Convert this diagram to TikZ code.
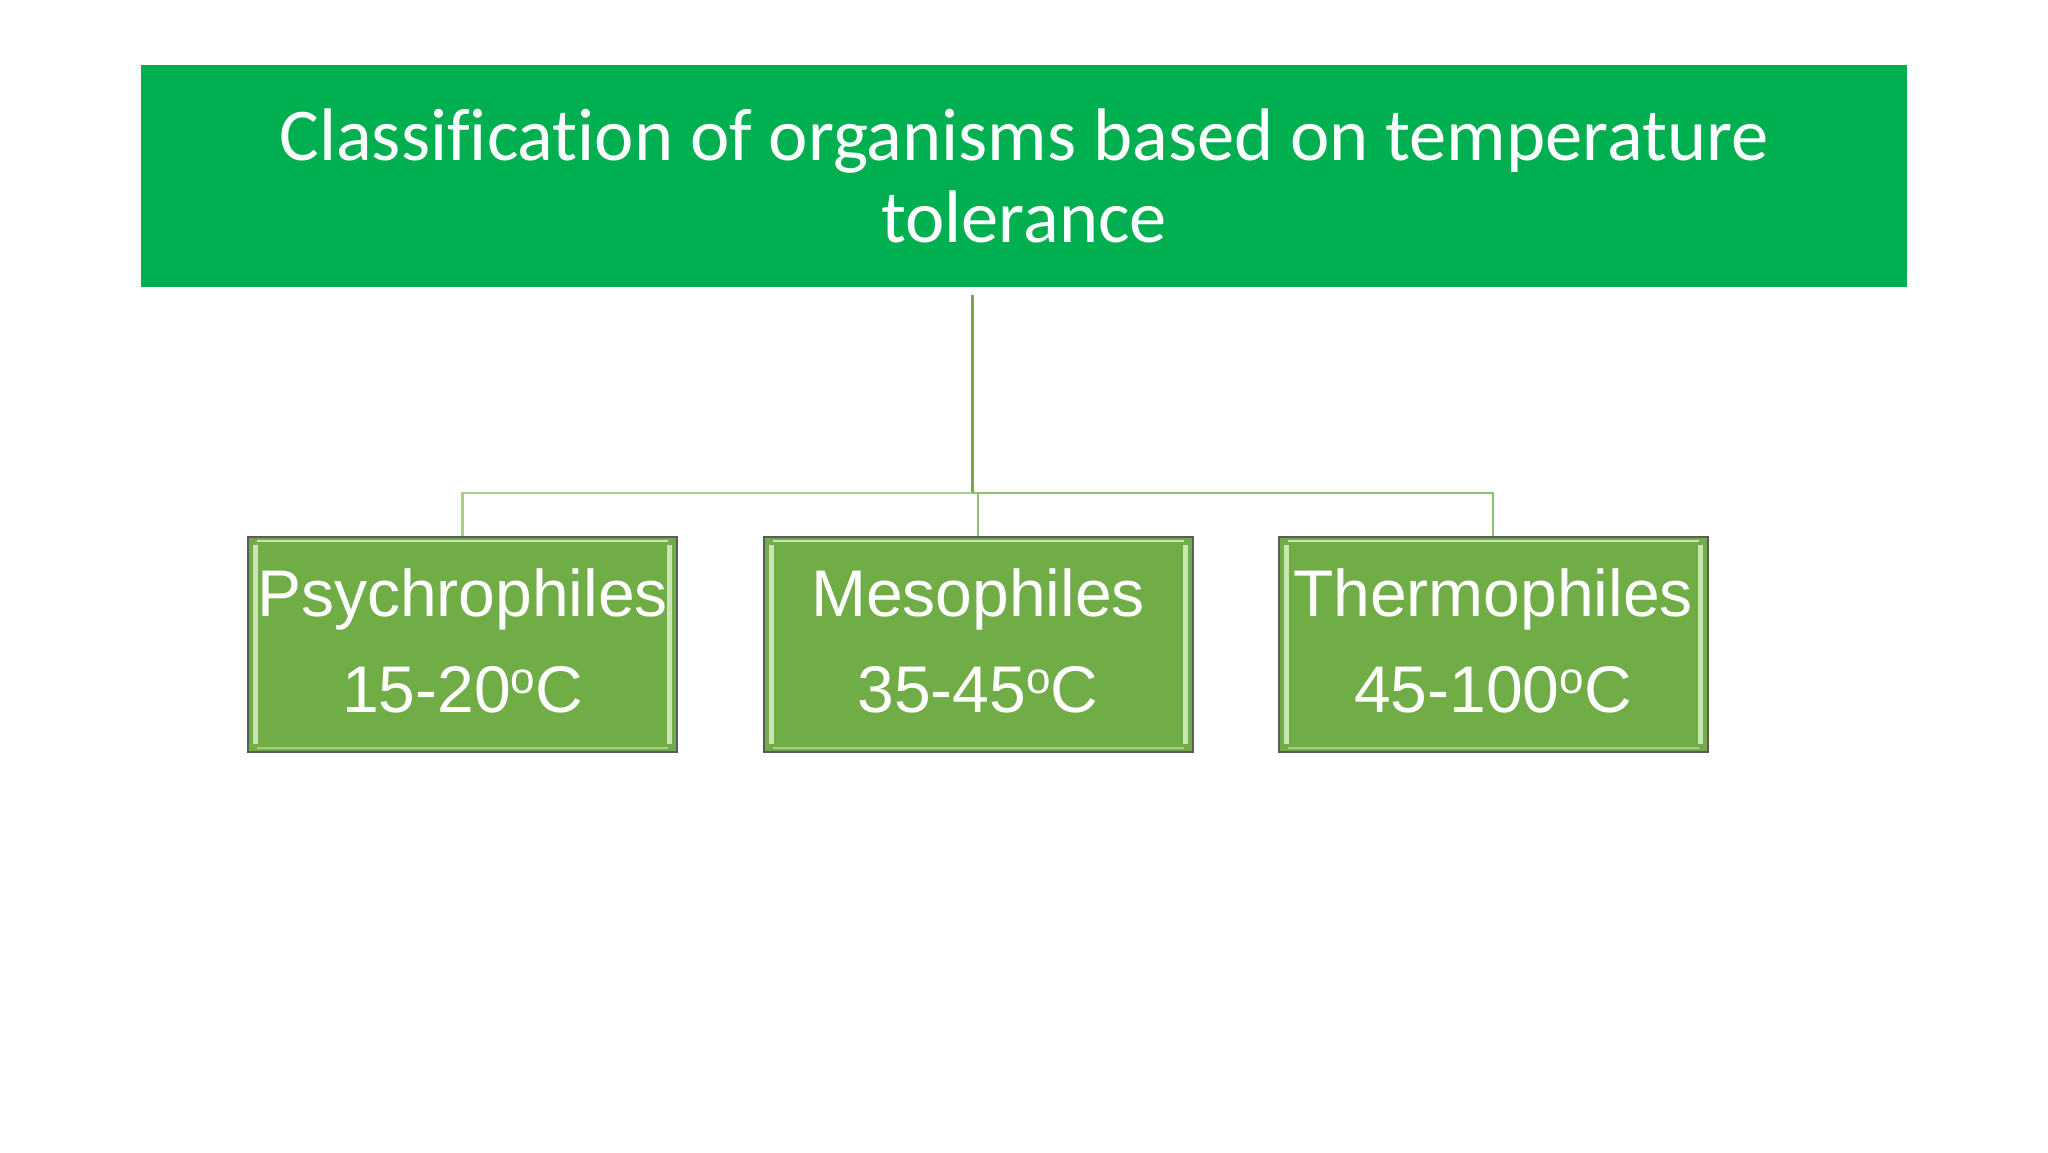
\documentclass[tikz,border=0pt]{standalone}
\usepackage{fontspec}
\setmainfont{Liberation Sans}
\newfontfamily\titlefont[Ligatures=NoCommon]{Carlito}
\definecolor{titlegreen}{HTML}{00B050}
\definecolor{boxgreen}{HTML}{70AD47}
\definecolor{bevellight}{HTML}{C9E5B3}
\definecolor{linelight}{HTML}{A9D18E}
\definecolor{linemid}{HTML}{8DC26A}
\definecolor{boxborder}{HTML}{5A5A5A}
\newcommand{\dego}{\raisebox{19pt}{\fontsize{44}{44}\selectfont o}}
\begin{document}
\begin{tikzpicture}[x=1pt,y=1pt,
  titlebox/.style={fill=titlegreen, draw=none, minimum width=1766pt, minimum height=222pt,
    inner sep=0pt, align=center, text=white, font=\titlefont\fontsize{74.5}{82}\selectfont},
  catbox/.style={fill=boxgreen, draw=boxborder, line width=2pt, minimum width=429pt,
    minimum height=215pt, inner sep=0pt},
  cattext/.style={text=white, align=center, font=\fontsize{66}{96}\selectfont, yshift=4pt},
  bevel/.style={fill=bevellight},
  trunk/.style={draw=boxgreen, line width=3pt},
  branch/.style={draw=linelight, line width=2.5pt},
  branchmid/.style={draw=linemid, line width=2.5pt}]
\useasboundingbox[fill=white] (0,0) rectangle (2048,1152);

\node[titlebox] (title) at (1024,976) {Classification of organisms based on temperature\\tolerance};

\coordinate (hub) at (972,659);

\foreach \n/\x in {psy/462.5, meso/978, thermo/1493}{
  \node[catbox] (\n) at (\x,507.5) {};
}

\foreach \n in {psy, meso, thermo}{
  \fill[bevel] ([xshift=6pt,yshift=-9pt]\n.north west) rectangle ([xshift=11pt,yshift=9pt]\n.south west);
  \fill[bevel] ([xshift=-6pt,yshift=-9pt]\n.north east) rectangle ([xshift=-11pt,yshift=9pt]\n.south east);
  \draw[bevellight, line width=1.5pt] ([xshift=10pt,yshift=-5pt]\n.north west) -- ([xshift=-10pt,yshift=-5pt]\n.north east);
  \draw[bevellight!60!boxgreen, line width=1.5pt] ([xshift=10pt,yshift=5pt]\n.south west) -- ([xshift=-10pt,yshift=5pt]\n.south east);
}

\node[cattext] (psyt) at (psy) {Psychrophiles\\15-20\dego C};
\node[cattext] (mesot) at (meso) {Mesophiles\\35-45\dego C};
\node[cattext] (thermot) at (thermo) {Thermophiles\\45-100\dego C};

\draw[trunk] ([yshift=-8pt]title.south -| hub) -- (hub);
\draw[branch] (hub) -| (psy.north);
\draw[branchmid] (hub) -| (thermo.north);
\draw[branchmid] (hub) -| (meso.north);
\end{tikzpicture}
\end{document}
